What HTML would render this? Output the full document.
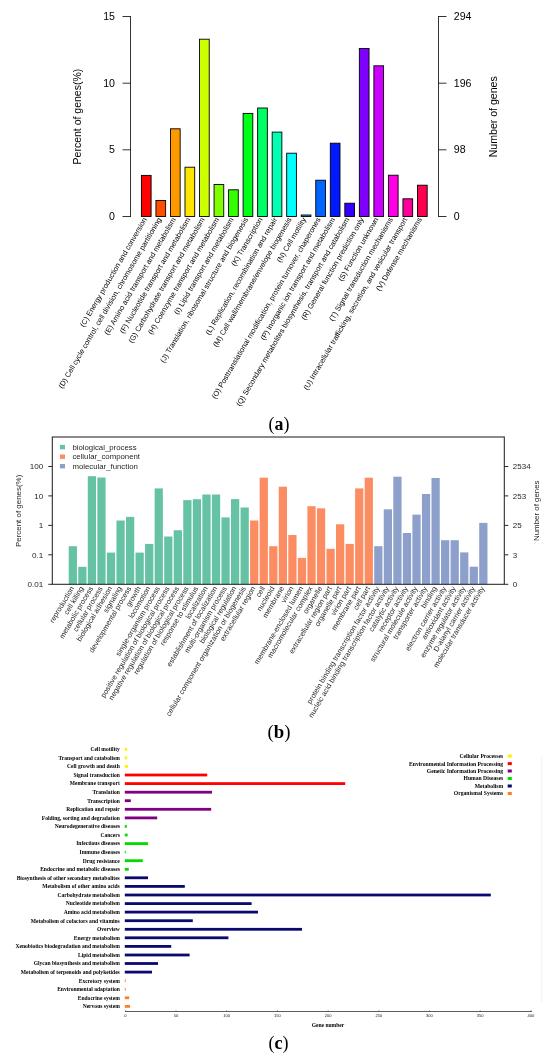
<!DOCTYPE html>
<html lang="en">
<head>
<meta charset="utf-8">
<title>Figure: COG, GO and KEGG annotation</title>
<style>
html,body{margin:0;padding:0;background:#fff;}
body{width:550px;height:1061px;overflow:hidden;position:relative;}
svg{display:block;position:absolute;left:0;top:0;}
.sa{font-family:"Liberation Sans",Arial,Helvetica,sans-serif;}
.se{font-family:"Liberation Serif","Times New Roman",Times,serif;}
</style>
</head>
<body>
<svg width="550" height="1061" viewBox="0 0 550 1061">
<rect x="0" y="0" width="550" height="1061" fill="#ffffff"/>
<g id="figure" style="filter:blur(0.45px)">

<g id="chart-a" class="sa">
<path d="M130.5 16.0 V217.0" stroke="#111" stroke-width="0.85" fill="none"/>
<path d="M122.5 216.5 H130.5" stroke="#111" stroke-width="0.85"/>
<text x="115" y="220.0" font-size="10.6" text-anchor="end" fill="#000">0</text>
<path d="M122.5 149.8 H130.5" stroke="#111" stroke-width="0.85"/>
<text x="115" y="153.3" font-size="10.6" text-anchor="end" fill="#000">5</text>
<path d="M122.5 83.2 H130.5" stroke="#111" stroke-width="0.85"/>
<text x="115" y="86.7" font-size="10.6" text-anchor="end" fill="#000">10</text>
<path d="M122.5 16.5 H130.5" stroke="#111" stroke-width="0.85"/>
<text x="115" y="20.0" font-size="10.6" text-anchor="end" fill="#000">15</text>
<path d="M438.5 16.0 V217.0" stroke="#111" stroke-width="0.85" fill="none"/>
<path d="M438.5 216.5 H446.5" stroke="#111" stroke-width="0.85"/>
<text x="453.8" y="220.0" font-size="10.6" text-anchor="start" fill="#000">0</text>
<path d="M438.5 149.8 H446.5" stroke="#111" stroke-width="0.85"/>
<text x="453.8" y="153.3" font-size="10.6" text-anchor="start" fill="#000">98</text>
<path d="M438.5 83.2 H446.5" stroke="#111" stroke-width="0.85"/>
<text x="453.8" y="86.7" font-size="10.6" text-anchor="start" fill="#000">196</text>
<path d="M438.5 16.5 H446.5" stroke="#111" stroke-width="0.85"/>
<text x="453.8" y="20.0" font-size="10.6" text-anchor="start" fill="#000">294</text>
<text transform="translate(80.9 116.6) rotate(-90)" font-size="10.5" text-anchor="middle" fill="#000">Percent of genes(%)</text>
<text transform="translate(497 116.8) rotate(-90)" font-size="10.55" text-anchor="middle" fill="#000">Number of genes</text>
<rect x="141.40" y="175.4" width="9.7" height="41.1" fill="#FF0000" stroke="#000" stroke-width="0.9"/>
<rect x="155.93" y="200.5" width="9.7" height="16.0" fill="#FF4D00" stroke="#000" stroke-width="0.9"/>
<rect x="170.46" y="128.8" width="9.7" height="87.7" fill="#FF9900" stroke="#000" stroke-width="0.9"/>
<rect x="184.99" y="167.2" width="9.7" height="49.3" fill="#FFE500" stroke="#000" stroke-width="0.9"/>
<rect x="199.52" y="39.2" width="9.7" height="177.3" fill="#CCFF00" stroke="#000" stroke-width="0.9"/>
<rect x="214.05" y="184.5" width="9.7" height="32.0" fill="#80FF00" stroke="#000" stroke-width="0.9"/>
<rect x="228.58" y="189.8" width="9.7" height="26.7" fill="#33FF00" stroke="#000" stroke-width="0.9"/>
<rect x="243.11" y="113.4" width="9.7" height="103.1" fill="#00FF19" stroke="#000" stroke-width="0.9"/>
<rect x="257.64" y="108.0" width="9.7" height="108.5" fill="#00FF66" stroke="#000" stroke-width="0.9"/>
<rect x="272.17" y="132.1" width="9.7" height="84.4" fill="#00FFB3" stroke="#000" stroke-width="0.9"/>
<rect x="286.70" y="153.2" width="9.7" height="63.3" fill="#00FFFF" stroke="#000" stroke-width="0.9"/>
<rect x="301.23" y="215.0" width="9.7" height="1.5" fill="#00B2FF" stroke="#000" stroke-width="0.9"/>
<rect x="315.76" y="180.2" width="9.7" height="36.3" fill="#0066FF" stroke="#000" stroke-width="0.9"/>
<rect x="330.29" y="143.2" width="9.7" height="73.3" fill="#0019FF" stroke="#000" stroke-width="0.9"/>
<rect x="344.82" y="203.2" width="9.7" height="13.3" fill="#3300FF" stroke="#000" stroke-width="0.9"/>
<rect x="359.35" y="48.5" width="9.7" height="168.0" fill="#8000FF" stroke="#000" stroke-width="0.9"/>
<rect x="373.88" y="65.8" width="9.7" height="150.7" fill="#CC00FF" stroke="#000" stroke-width="0.9"/>
<rect x="388.41" y="175.2" width="9.7" height="41.3" fill="#FF00E6" stroke="#000" stroke-width="0.9"/>
<rect x="402.94" y="198.8" width="9.7" height="17.7" fill="#FF0099" stroke="#000" stroke-width="0.9"/>
<rect x="417.47" y="185.2" width="9.7" height="31.3" fill="#FF004D" stroke="#000" stroke-width="0.9"/>
<text transform="translate(147.2 219.4) rotate(-59.7)" font-size="7.45" text-anchor="end" fill="#000">(C) Energy production and conversion</text>
<text transform="translate(161.6 219.4) rotate(-59.7)" font-size="7.45" text-anchor="end" fill="#000">(D) Cell cycle control, cell division, chromosome partitioning</text>
<text transform="translate(176.1 219.4) rotate(-59.7)" font-size="7.45" text-anchor="end" fill="#000">(E) Amino acid transport and metabolism</text>
<text transform="translate(190.6 219.4) rotate(-59.7)" font-size="7.45" text-anchor="end" fill="#000">(F) Nucleotide transport and metabolism</text>
<text transform="translate(205.0 219.4) rotate(-59.7)" font-size="7.45" text-anchor="end" fill="#000">(G) Carbohydrate transport and metabolism</text>
<text transform="translate(219.5 219.4) rotate(-59.7)" font-size="7.45" text-anchor="end" fill="#000">(H) Coenzyme transport and metabolism</text>
<text transform="translate(234.0 219.4) rotate(-59.7)" font-size="7.45" text-anchor="end" fill="#000">(I) Lipid transport and metabolism</text>
<text transform="translate(248.4 219.4) rotate(-59.7)" font-size="7.45" text-anchor="end" fill="#000">(J) Translation, ribosomal structure and biogenesis</text>
<text transform="translate(262.9 219.4) rotate(-59.7)" font-size="7.45" text-anchor="end" fill="#000">(K) Transcription</text>
<text transform="translate(277.4 219.4) rotate(-59.7)" font-size="7.45" text-anchor="end" fill="#000">(L) Replication, recombination and repair</text>
<text transform="translate(291.9 219.4) rotate(-59.7)" font-size="7.45" text-anchor="end" fill="#000">(M) Cell wall/membrane/envelope biogenesis</text>
<text transform="translate(306.3 219.4) rotate(-59.7)" font-size="7.45" text-anchor="end" fill="#000">(N) Cell motility</text>
<text transform="translate(320.8 219.4) rotate(-59.7)" font-size="7.45" text-anchor="end" fill="#000">(O) Posttranslational modification, protein turnover, chaperones</text>
<text transform="translate(335.3 219.4) rotate(-59.7)" font-size="7.45" text-anchor="end" fill="#000">(P) Inorganic ion transport and metabolism</text>
<text transform="translate(349.7 219.4) rotate(-59.7)" font-size="7.45" text-anchor="end" fill="#000">(Q) Secondary metabolites biosynthesis, transport and catabolism</text>
<text transform="translate(364.2 219.4) rotate(-59.7)" font-size="7.45" text-anchor="end" fill="#000">(R) General function prediction only</text>
<text transform="translate(378.7 219.4) rotate(-59.7)" font-size="7.45" text-anchor="end" fill="#000">(S) Function unknown</text>
<text transform="translate(393.1 219.4) rotate(-59.7)" font-size="7.45" text-anchor="end" fill="#000">(T) Signal transduction mechanisms</text>
<text transform="translate(407.6 219.4) rotate(-59.7)" font-size="7.45" text-anchor="end" fill="#000">(U) Intracellular trafficking, secretion, and vesicular transport</text>
<text transform="translate(422.1 219.4) rotate(-59.7)" font-size="7.45" text-anchor="end" fill="#000">(V) Defense mechanisms</text>
</g>
<text class="se" x="279" y="429.6" font-size="17.9" text-anchor="middle" fill="#000">(<tspan font-weight="bold">a</tspan>)</text>
<g id="chart-b" class="sa">
<rect x="68.70" y="546.2" width="8.25" height="38.1" fill="#66C2A5"/>
<rect x="78.25" y="566.8" width="8.25" height="17.5" fill="#66C2A5"/>
<rect x="87.79" y="476.2" width="8.25" height="108.1" fill="#66C2A5"/>
<rect x="97.34" y="477.5" width="8.25" height="106.8" fill="#66C2A5"/>
<rect x="106.89" y="552.6" width="8.25" height="31.7" fill="#66C2A5"/>
<rect x="116.44" y="520.5" width="8.25" height="63.8" fill="#66C2A5"/>
<rect x="125.98" y="516.9" width="8.25" height="67.4" fill="#66C2A5"/>
<rect x="135.53" y="552.6" width="8.25" height="31.7" fill="#66C2A5"/>
<rect x="145.08" y="543.9" width="8.25" height="40.4" fill="#66C2A5"/>
<rect x="154.62" y="488.4" width="8.25" height="95.9" fill="#66C2A5"/>
<rect x="164.17" y="536.5" width="8.25" height="47.8" fill="#66C2A5"/>
<rect x="173.72" y="530.2" width="8.25" height="54.1" fill="#66C2A5"/>
<rect x="183.26" y="500.1" width="8.25" height="84.2" fill="#66C2A5"/>
<rect x="192.81" y="499.2" width="8.25" height="85.1" fill="#66C2A5"/>
<rect x="202.36" y="494.5" width="8.25" height="89.8" fill="#66C2A5"/>
<rect x="211.91" y="494.5" width="8.25" height="89.8" fill="#66C2A5"/>
<rect x="221.45" y="517.4" width="8.25" height="66.9" fill="#66C2A5"/>
<rect x="231.00" y="499.1" width="8.25" height="85.2" fill="#66C2A5"/>
<rect x="240.55" y="507.5" width="8.25" height="76.8" fill="#66C2A5"/>
<rect x="250.09" y="520.5" width="8.25" height="63.8" fill="#FC8D62"/>
<rect x="259.64" y="477.7" width="8.25" height="106.6" fill="#FC8D62"/>
<rect x="269.19" y="546.2" width="8.25" height="38.1" fill="#FC8D62"/>
<rect x="278.73" y="486.7" width="8.25" height="97.6" fill="#FC8D62"/>
<rect x="288.28" y="535.0" width="8.25" height="49.3" fill="#FC8D62"/>
<rect x="297.83" y="557.9" width="8.25" height="26.4" fill="#FC8D62"/>
<rect x="307.38" y="506.2" width="8.25" height="78.1" fill="#FC8D62"/>
<rect x="316.92" y="508.3" width="8.25" height="76.0" fill="#FC8D62"/>
<rect x="326.47" y="548.8" width="8.25" height="35.5" fill="#FC8D62"/>
<rect x="336.02" y="524.3" width="8.25" height="60.0" fill="#FC8D62"/>
<rect x="345.56" y="543.9" width="8.25" height="40.4" fill="#FC8D62"/>
<rect x="355.11" y="488.4" width="8.25" height="95.9" fill="#FC8D62"/>
<rect x="364.66" y="477.7" width="8.25" height="106.6" fill="#FC8D62"/>
<rect x="374.20" y="546.2" width="8.25" height="38.1" fill="#8DA0CB"/>
<rect x="383.75" y="509.3" width="8.25" height="75.0" fill="#8DA0CB"/>
<rect x="393.30" y="476.7" width="8.25" height="107.6" fill="#8DA0CB"/>
<rect x="402.85" y="533.0" width="8.25" height="51.3" fill="#8DA0CB"/>
<rect x="412.39" y="514.6" width="8.25" height="69.7" fill="#8DA0CB"/>
<rect x="421.94" y="494.0" width="8.25" height="90.3" fill="#8DA0CB"/>
<rect x="431.49" y="478.0" width="8.25" height="106.3" fill="#8DA0CB"/>
<rect x="441.03" y="540.2" width="8.25" height="44.1" fill="#8DA0CB"/>
<rect x="450.58" y="540.2" width="8.25" height="44.1" fill="#8DA0CB"/>
<rect x="460.13" y="552.4" width="8.25" height="31.9" fill="#8DA0CB"/>
<rect x="469.67" y="566.7" width="8.25" height="17.6" fill="#8DA0CB"/>
<rect x="479.22" y="522.9" width="8.25" height="61.4" fill="#8DA0CB"/>
<rect x="52.3" y="437.0" width="452.0" height="147.29999999999995" fill="none" stroke="#222" stroke-width="1.05"/>
<path d="M48.3 584.3 H52.3" stroke="#262626" stroke-width="1"/>
<text x="43.2" y="587.2" font-size="8.1" text-anchor="end" fill="#262626">0.01</text>
<path d="M48.3 554.8 H52.3" stroke="#262626" stroke-width="1"/>
<text x="43.2" y="557.7" font-size="8.1" text-anchor="end" fill="#262626">0.1</text>
<path d="M48.3 525.4 H52.3" stroke="#262626" stroke-width="1"/>
<text x="43.2" y="528.3" font-size="8.1" text-anchor="end" fill="#262626">1</text>
<path d="M48.3 495.9 H52.3" stroke="#262626" stroke-width="1"/>
<text x="43.2" y="498.8" font-size="8.1" text-anchor="end" fill="#262626">10</text>
<path d="M48.3 466.5 H52.3" stroke="#262626" stroke-width="1"/>
<text x="43.2" y="469.4" font-size="8.1" text-anchor="end" fill="#262626">100</text>
<path d="M504.3 584.3 H508.3" stroke="#262626" stroke-width="1"/>
<text x="512.8" y="587.2" font-size="8.0" text-anchor="start" fill="#262626">0</text>
<path d="M504.3 554.8 H508.3" stroke="#262626" stroke-width="1"/>
<text x="512.8" y="557.7" font-size="8.0" text-anchor="start" fill="#262626">3</text>
<path d="M504.3 525.4 H508.3" stroke="#262626" stroke-width="1"/>
<text x="512.8" y="528.3" font-size="8.0" text-anchor="start" fill="#262626">25</text>
<path d="M504.3 495.9 H508.3" stroke="#262626" stroke-width="1"/>
<text x="512.8" y="498.8" font-size="8.0" text-anchor="start" fill="#262626">253</text>
<path d="M504.3 466.5 H508.3" stroke="#262626" stroke-width="1"/>
<text x="512.8" y="469.4" font-size="8.0" text-anchor="start" fill="#262626">2534</text>
<text transform="translate(20.6 510.9) rotate(-90)" font-size="7.95" text-anchor="middle" fill="#262626">Percent of genes(%)</text>
<text transform="translate(539.4 510.7) rotate(-90)" font-size="7.9" text-anchor="middle" fill="#262626">Number of genes</text>
<rect x="59.9" y="444.9" width="5.1" height="4.4" fill="#66C2A5"/>
<text x="72.4" y="449.8" font-size="7.8" fill="#262626">biological_process</text>
<rect x="59.9" y="454.5" width="5.1" height="4.4" fill="#FC8D62"/>
<text x="72.4" y="459.4" font-size="7.8" fill="#262626">cellular_component</text>
<rect x="59.9" y="464.0" width="5.1" height="4.4" fill="#8DA0CB"/>
<text x="72.4" y="468.9" font-size="7.8" fill="#262626">molecular_function</text>
<text transform="translate(74.3 588.3) rotate(-59.3)" font-size="7.35" text-anchor="end" fill="#262626">reproduction</text>
<text transform="translate(83.9 588.3) rotate(-59.3)" font-size="7.35" text-anchor="end" fill="#262626">cell killing</text>
<text transform="translate(93.4 588.3) rotate(-59.3)" font-size="7.35" text-anchor="end" fill="#262626">metabolic process</text>
<text transform="translate(103.0 588.3) rotate(-59.3)" font-size="7.35" text-anchor="end" fill="#262626">cellular process</text>
<text transform="translate(112.5 588.3) rotate(-59.3)" font-size="7.35" text-anchor="end" fill="#262626">biological adhesion</text>
<text transform="translate(122.1 588.3) rotate(-59.3)" font-size="7.35" text-anchor="end" fill="#262626">signaling</text>
<text transform="translate(131.6 588.3) rotate(-59.3)" font-size="7.35" text-anchor="end" fill="#262626">developmental process</text>
<text transform="translate(141.2 588.3) rotate(-59.3)" font-size="7.35" text-anchor="end" fill="#262626">growth</text>
<text transform="translate(150.7 588.3) rotate(-59.3)" font-size="7.35" text-anchor="end" fill="#262626">locomotion</text>
<text transform="translate(160.2 588.3) rotate(-59.3)" font-size="7.35" text-anchor="end" fill="#262626">single-organism process</text>
<text transform="translate(169.8 588.3) rotate(-59.3)" font-size="7.35" text-anchor="end" fill="#262626">positive regulation of biological process</text>
<text transform="translate(179.3 588.3) rotate(-59.3)" font-size="7.35" text-anchor="end" fill="#262626">negative regulation of biological process</text>
<text transform="translate(188.9 588.3) rotate(-59.3)" font-size="7.35" text-anchor="end" fill="#262626">regulation of biological process</text>
<text transform="translate(198.4 588.3) rotate(-59.3)" font-size="7.35" text-anchor="end" fill="#262626">response to stimulus</text>
<text transform="translate(208.0 588.3) rotate(-59.3)" font-size="7.35" text-anchor="end" fill="#262626">localization</text>
<text transform="translate(217.5 588.3) rotate(-59.3)" font-size="7.35" text-anchor="end" fill="#262626">establishment of localization</text>
<text transform="translate(227.1 588.3) rotate(-59.3)" font-size="7.35" text-anchor="end" fill="#262626">multi-organism process</text>
<text transform="translate(236.6 588.3) rotate(-59.3)" font-size="7.35" text-anchor="end" fill="#262626">biological regulation</text>
<text transform="translate(246.2 588.3) rotate(-59.3)" font-size="7.35" text-anchor="end" fill="#262626">cellular component organization or biogenesis</text>
<text transform="translate(255.7 588.3) rotate(-59.3)" font-size="7.35" text-anchor="end" fill="#262626">extracellular region</text>
<text transform="translate(265.3 588.3) rotate(-59.3)" font-size="7.35" text-anchor="end" fill="#262626">cell</text>
<text transform="translate(274.8 588.3) rotate(-59.3)" font-size="7.35" text-anchor="end" fill="#262626">nucleoid</text>
<text transform="translate(284.4 588.3) rotate(-59.3)" font-size="7.35" text-anchor="end" fill="#262626">membrane</text>
<text transform="translate(293.9 588.3) rotate(-59.3)" font-size="7.35" text-anchor="end" fill="#262626">virion</text>
<text transform="translate(303.5 588.3) rotate(-59.3)" font-size="7.35" text-anchor="end" fill="#262626">membrane-enclosed lumen</text>
<text transform="translate(313.0 588.3) rotate(-59.3)" font-size="7.35" text-anchor="end" fill="#262626">macromolecular complex</text>
<text transform="translate(322.5 588.3) rotate(-59.3)" font-size="7.35" text-anchor="end" fill="#262626">organelle</text>
<text transform="translate(332.1 588.3) rotate(-59.3)" font-size="7.35" text-anchor="end" fill="#262626">extracellular region part</text>
<text transform="translate(341.6 588.3) rotate(-59.3)" font-size="7.35" text-anchor="end" fill="#262626">organelle part</text>
<text transform="translate(351.2 588.3) rotate(-59.3)" font-size="7.35" text-anchor="end" fill="#262626">virion part</text>
<text transform="translate(360.7 588.3) rotate(-59.3)" font-size="7.35" text-anchor="end" fill="#262626">membrane part</text>
<text transform="translate(370.3 588.3) rotate(-59.3)" font-size="7.35" text-anchor="end" fill="#262626">cell part</text>
<text transform="translate(379.8 588.3) rotate(-59.3)" font-size="7.35" text-anchor="end" fill="#262626">protein binding transcription factor activity</text>
<text transform="translate(389.4 588.3) rotate(-59.3)" font-size="7.35" text-anchor="end" fill="#262626">nucleic acid binding transcription factor activity</text>
<text transform="translate(398.9 588.3) rotate(-59.3)" font-size="7.35" text-anchor="end" fill="#262626">catalytic activity</text>
<text transform="translate(408.5 588.3) rotate(-59.3)" font-size="7.35" text-anchor="end" fill="#262626">receptor activity</text>
<text transform="translate(418.0 588.3) rotate(-59.3)" font-size="7.35" text-anchor="end" fill="#262626">structural molecule activity</text>
<text transform="translate(427.6 588.3) rotate(-59.3)" font-size="7.35" text-anchor="end" fill="#262626">transporter activity</text>
<text transform="translate(437.1 588.3) rotate(-59.3)" font-size="7.35" text-anchor="end" fill="#262626">binding</text>
<text transform="translate(446.7 588.3) rotate(-59.3)" font-size="7.35" text-anchor="end" fill="#262626">electron carrier activity</text>
<text transform="translate(456.2 588.3) rotate(-59.3)" font-size="7.35" text-anchor="end" fill="#262626">antioxidant activity</text>
<text transform="translate(465.8 588.3) rotate(-59.3)" font-size="7.35" text-anchor="end" fill="#262626">enzyme regulator activity</text>
<text transform="translate(475.3 588.3) rotate(-59.3)" font-size="7.35" text-anchor="end" fill="#262626">D-alanyl carrier activity</text>
<text transform="translate(484.8 588.3) rotate(-59.3)" font-size="7.35" text-anchor="end" fill="#262626">molecular transducer activity</text>
</g>
<text class="se" x="279" y="738" font-size="18.8" text-anchor="middle" fill="#000">(<tspan font-weight="bold">b</tspan>)</text>
<g id="chart-c" class="se" font-weight="bold">
<rect x="124.8" y="747.9" width="2.4" height="2.8" fill="#FFF200"/>
<text x="119.8" y="751.1" font-size="5.55" text-anchor="end" fill="#000">Cell motility</text>
<rect x="124.8" y="756.5" width="2.4" height="2.8" fill="#FFF200"/>
<text x="119.8" y="759.7" font-size="5.55" text-anchor="end" fill="#000">Transport and catabolism</text>
<rect x="124.8" y="765.0" width="3.2" height="2.8" fill="#FFF200"/>
<text x="119.8" y="768.2" font-size="5.55" text-anchor="end" fill="#000">Cell growth and death</text>
<rect x="124.8" y="773.6" width="82.4" height="2.8" fill="#FF0000"/>
<text x="119.8" y="776.8" font-size="5.55" text-anchor="end" fill="#000">Signal transduction</text>
<rect x="124.8" y="782.2" width="220.4" height="2.8" fill="#FF0000"/>
<text x="119.8" y="785.4" font-size="5.55" text-anchor="end" fill="#000">Membrane transport</text>
<rect x="124.8" y="790.8" width="87.2" height="2.8" fill="#800080"/>
<text x="119.8" y="793.9" font-size="5.55" text-anchor="end" fill="#000">Translation</text>
<rect x="124.8" y="799.3" width="6" height="2.8" fill="#800080"/>
<text x="119.8" y="802.5" font-size="5.55" text-anchor="end" fill="#000">Transcription</text>
<rect x="124.8" y="807.9" width="86.4" height="2.8" fill="#800080"/>
<text x="119.8" y="811.1" font-size="5.55" text-anchor="end" fill="#000">Replication and repair</text>
<rect x="124.8" y="816.5" width="32.4" height="2.8" fill="#800080"/>
<text x="119.8" y="819.7" font-size="5.55" text-anchor="end" fill="#000">Folding, sorting and degradation</text>
<rect x="124.8" y="825.0" width="2" height="2.8" fill="#00DC00"/>
<text x="119.8" y="828.2" font-size="5.55" text-anchor="end" fill="#000">Neurodegenerative diseases</text>
<rect x="124.8" y="833.6" width="2.8" height="2.8" fill="#00DC00"/>
<text x="119.8" y="836.8" font-size="5.55" text-anchor="end" fill="#000">Cancers</text>
<rect x="124.8" y="842.2" width="23.2" height="2.8" fill="#00DC00"/>
<text x="119.8" y="845.4" font-size="5.55" text-anchor="end" fill="#000">Infectious diseases</text>
<rect x="124.8" y="850.7" width="0.9" height="2.8" fill="#00DC00"/>
<text x="119.8" y="853.9" font-size="5.55" text-anchor="end" fill="#000">Immune diseases</text>
<rect x="124.8" y="859.3" width="18" height="2.8" fill="#00DC00"/>
<text x="119.8" y="862.5" font-size="5.55" text-anchor="end" fill="#000">Drug resistance</text>
<rect x="124.8" y="867.9" width="4" height="2.8" fill="#00DC00"/>
<text x="119.8" y="871.1" font-size="5.55" text-anchor="end" fill="#000">Endocrine and metabolic diseases</text>
<rect x="124.8" y="876.4" width="23.2" height="2.8" fill="#0A0A6E"/>
<text x="119.8" y="879.6" font-size="5.55" text-anchor="end" fill="#000">Biosynthesis of other secondary metabolites</text>
<rect x="124.8" y="885.0" width="60" height="2.8" fill="#0A0A6E"/>
<text x="119.8" y="888.2" font-size="5.55" text-anchor="end" fill="#000">Metabolism of other amino acids</text>
<rect x="124.8" y="893.6" width="366" height="2.8" fill="#0A0A6E"/>
<text x="119.8" y="896.8" font-size="5.55" text-anchor="end" fill="#000">Carbohydrate metabolism</text>
<rect x="124.8" y="902.2" width="126.8" height="2.8" fill="#0A0A6E"/>
<text x="119.8" y="905.4" font-size="5.55" text-anchor="end" fill="#000">Nucleotide metabolism</text>
<rect x="124.8" y="910.7" width="133.2" height="2.8" fill="#0A0A6E"/>
<text x="119.8" y="913.9" font-size="5.55" text-anchor="end" fill="#000">Amino acid metabolism</text>
<rect x="124.8" y="919.3" width="68" height="2.8" fill="#0A0A6E"/>
<text x="119.8" y="922.5" font-size="5.55" text-anchor="end" fill="#000">Metabolism of cofactors and vitamins</text>
<rect x="124.8" y="927.9" width="177.2" height="2.8" fill="#0A0A6E"/>
<text x="119.8" y="931.1" font-size="5.55" text-anchor="end" fill="#000">Overview</text>
<rect x="124.8" y="936.4" width="103.6" height="2.8" fill="#0A0A6E"/>
<text x="119.8" y="939.6" font-size="5.55" text-anchor="end" fill="#000">Energy metabolism</text>
<rect x="124.8" y="945.0" width="46.4" height="2.8" fill="#0A0A6E"/>
<text x="119.8" y="948.2" font-size="5.55" text-anchor="end" fill="#000">Xenobiotics biodegradation and metabolism</text>
<rect x="124.8" y="953.6" width="64.8" height="2.8" fill="#0A0A6E"/>
<text x="119.8" y="956.8" font-size="5.55" text-anchor="end" fill="#000">Lipid metabolism</text>
<rect x="124.8" y="962.1" width="33.2" height="2.8" fill="#0A0A6E"/>
<text x="119.8" y="965.3" font-size="5.55" text-anchor="end" fill="#000">Glycan biosynthesis and metabolism</text>
<rect x="124.8" y="970.7" width="27.2" height="2.8" fill="#0A0A6E"/>
<text x="119.8" y="973.9" font-size="5.55" text-anchor="end" fill="#000">Metabolism of terpenoids and polyketides</text>
<rect x="124.8" y="979.3" width="0.9" height="2.8" fill="#FF7F27"/>
<text x="119.8" y="982.5" font-size="5.55" text-anchor="end" fill="#000">Excretory system</text>
<rect x="124.8" y="987.9" width="0.9" height="2.8" fill="#FF7F27"/>
<text x="119.8" y="991.1" font-size="5.55" text-anchor="end" fill="#000">Environmental adaptation</text>
<rect x="124.8" y="996.4" width="4.4" height="2.8" fill="#FF7F27"/>
<text x="119.8" y="999.6" font-size="5.55" text-anchor="end" fill="#000">Endocrine system</text>
<rect x="124.8" y="1005.0" width="5.2" height="2.8" fill="#FF7F27"/>
<text x="119.8" y="1008.2" font-size="5.55" text-anchor="end" fill="#000">Nervous system</text>
<path d="M125 1011.5 H532" stroke="#333" stroke-width="0.8"/>
<path d="M125.3 1011.5 v-1.5" stroke="#555" stroke-width="0.5"/>
<text class="sa" x="125.3" y="1017.2" font-size="4.05" font-weight="normal" text-anchor="middle" fill="#222">0</text>
<path d="M176.0 1011.5 v-1.5" stroke="#555" stroke-width="0.5"/>
<text class="sa" x="176.0" y="1017.2" font-size="4.05" font-weight="normal" text-anchor="middle" fill="#222">50</text>
<path d="M226.7 1011.5 v-1.5" stroke="#555" stroke-width="0.5"/>
<text class="sa" x="226.7" y="1017.2" font-size="4.05" font-weight="normal" text-anchor="middle" fill="#222">100</text>
<path d="M277.4 1011.5 v-1.5" stroke="#555" stroke-width="0.5"/>
<text class="sa" x="277.4" y="1017.2" font-size="4.05" font-weight="normal" text-anchor="middle" fill="#222">150</text>
<path d="M328.1 1011.5 v-1.5" stroke="#555" stroke-width="0.5"/>
<text class="sa" x="328.1" y="1017.2" font-size="4.05" font-weight="normal" text-anchor="middle" fill="#222">200</text>
<path d="M378.8 1011.5 v-1.5" stroke="#555" stroke-width="0.5"/>
<text class="sa" x="378.8" y="1017.2" font-size="4.05" font-weight="normal" text-anchor="middle" fill="#222">250</text>
<path d="M429.5 1011.5 v-1.5" stroke="#555" stroke-width="0.5"/>
<text class="sa" x="429.5" y="1017.2" font-size="4.05" font-weight="normal" text-anchor="middle" fill="#222">300</text>
<path d="M480.2 1011.5 v-1.5" stroke="#555" stroke-width="0.5"/>
<text class="sa" x="480.2" y="1017.2" font-size="4.05" font-weight="normal" text-anchor="middle" fill="#222">350</text>
<path d="M530.9 1011.5 v-1.5" stroke="#555" stroke-width="0.5"/>
<text class="sa" x="530.9" y="1017.2" font-size="4.05" font-weight="normal" text-anchor="middle" fill="#222">400</text>
<text x="328" y="1026.6" font-size="5.55" text-anchor="middle" fill="#000">Gene number</text>
<text x="503.2" y="758.0" font-size="5.65" text-anchor="end" fill="#000">Cellular Processes</text>
<rect x="507.7" y="754.6" width="4.1" height="3" fill="#FFF200"/>
<text x="503.2" y="765.5" font-size="5.65" text-anchor="end" fill="#000">Environmental Information Processing</text>
<rect x="507.7" y="762.1" width="4.1" height="3" fill="#FF0000"/>
<text x="503.2" y="772.9" font-size="5.65" text-anchor="end" fill="#000">Genetic Information Processing</text>
<rect x="507.7" y="769.5" width="4.1" height="3" fill="#800080"/>
<text x="503.2" y="780.4" font-size="5.65" text-anchor="end" fill="#000">Human Diseases</text>
<rect x="507.7" y="777.0" width="4.1" height="3" fill="#00DC00"/>
<text x="503.2" y="787.9" font-size="5.65" text-anchor="end" fill="#000">Metabolism</text>
<rect x="507.7" y="784.5" width="4.1" height="3" fill="#0A0A6E"/>
<text x="503.2" y="795.4" font-size="5.65" text-anchor="end" fill="#000">Organismal Systems</text>
<rect x="507.7" y="792.0" width="4.1" height="3" fill="#FF7F27"/>
<path d="M541.7 757 V1002" stroke="#ececec" stroke-width="0.8"/>
</g>
<text class="se" x="278.5" y="1048.8" font-size="18" text-anchor="middle" fill="#000">(<tspan font-weight="bold">c</tspan>)</text>
</g>
</svg>
</body>
</html>
